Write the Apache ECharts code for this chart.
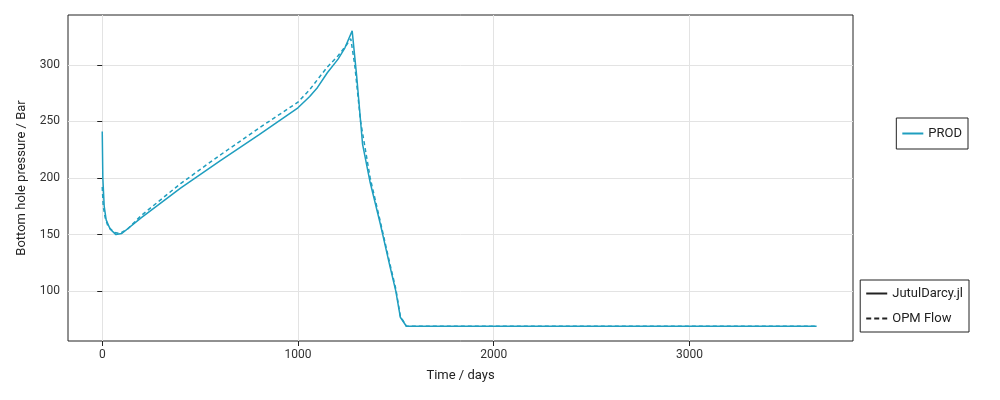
<!DOCTYPE html>
<html>
<head>
<meta charset="utf-8">
<script src="https://cdn.jsdelivr.net/npm/echarts@6/dist/echarts.min.js"></script>
<style>html,body{margin:0;padding:0;background:#fff}#c{width:1000px;height:400px}</style>
</head>
<body>
<div id="c"></div>
<script>
// 井底压力 - JutulDarcy (实线) 与 OPM Flow (虚线)
var jutulData = [[0,241],[3,200],[10,175],[20,163],[40,155],[70,150],[100,151],[200,165],[400,191],[600,215],[800,238],[1000,262],[1060,272],[1100,280],[1150,293],[1205,305],[1240,315],[1277,330],[1300,290],[1330,230],[1369,196],[1420,160],[1470,122],[1500,100],[1523,77],[1554,69],[3650,69]];
var opmData = [[0,192],[5,175],[15,165],[30,157],[60,152],[90,151],[130,155],[200,167],[400,195],[600,220],[800,244],[1000,267],[1060,278],[1100,287],[1150,298],[1205,308],[1250,318],[1270,323],[1290,300],[1320,250],[1369,200],[1420,162],[1470,124],[1500,102],[1523,78],[1554,69],[3650,69]];
var xTicks = [0, 1000, 2000, 3000];
var yTicks = [100, 150, 200, 250, 300];

var col = '#1f9ebf';
var font = 'Roboto, "Liberation Sans", sans-serif';
var dashIcon = 'path://M0,0h5v2h-5zM8,0h5v2h-5zM16,0h5v2h-5z';
var solidIcon = 'path://M0,0h21v2h-21z';

var chart = echarts.init(document.getElementById('c'));
chart.setOption({
    animation: false,
    textStyle: {fontFamily: font},
    grid: {left: 68, right: 147, top: 15, bottom: 59, show: true, borderColor: '#222', borderWidth: 1},
    xAxis: {
        type: 'value', min: -175, max: 3836,
        name: 'Time / days', nameLocation: 'middle', nameGap: 28,
        nameTextStyle: {fontSize: 13, color: '#222'},
        axisLine: {show: false},
        axisTick: {show: true, inside: false, length: 5, lineStyle: {color: '#222'}, customValues: xTicks},
        axisLabel: {color: '#333', fontSize: 12, customValues: xTicks, formatter: function (v) { return String(v); }},
        splitLine: {show: true, lineStyle: {color: '#e3e3e3'}}
    },
    yAxis: {
        type: 'value', min: 56, max: 344,
        name: 'Bottom hole pressure / Bar', nameLocation: 'middle', nameGap: 40,
        nameTextStyle: {fontSize: 13, color: '#222'},
        axisLine: {show: false},
        axisTick: {show: true, length: 5, lineStyle: {color: '#222'}, customValues: yTicks},
        axisLabel: {color: '#333', fontSize: 12, customValues: yTicks, formatter: function (v) { return String(v); }},
        splitLine: {show: true, lineStyle: {color: '#e3e3e3'}}
    },
    legend: [{
        data: [{name: 'PROD', icon: solidIcon}],
        right: 32, top: 118, orient: 'vertical',
        itemWidth: 21, itemHeight: 2, itemGap: 6,
        padding: [9, 6, 9, 6], borderColor: '#222', borderWidth: 1,
        textStyle: {fontSize: 13, color: '#222'}
    }, {
        data: [{name: 'JutulDarcy.jl', icon: solidIcon}, {name: 'OPM Flow', icon: dashIcon}],
        right: 31, top: 280, orient: 'vertical',
        itemWidth: 21, itemHeight: 2, itemGap: 12,
        padding: [7, 6, 7, 6], borderColor: '#222', borderWidth: 1,
        textStyle: {fontSize: 13, color: '#222'}
    }],
    series: [{
        name: 'PROD', type: 'line', data: jutulData, showSymbol: false,
        lineStyle: {color: col, width: 1.5}, itemStyle: {color: col}
    }, {
        name: 'PROD_opm', type: 'line', data: opmData, showSymbol: false,
        lineStyle: {color: col, width: 1.5, type: [4, 3]}, itemStyle: {color: col}
    }, {
        name: 'JutulDarcy.jl', type: 'line', data: [], itemStyle: {color: '#222'}, lineStyle: {color: '#222'}
    }, {
        name: 'OPM Flow', type: 'line', data: [], itemStyle: {color: '#222'}, lineStyle: {color: '#222'}
    }]
});
</script>
</body>
</html>
